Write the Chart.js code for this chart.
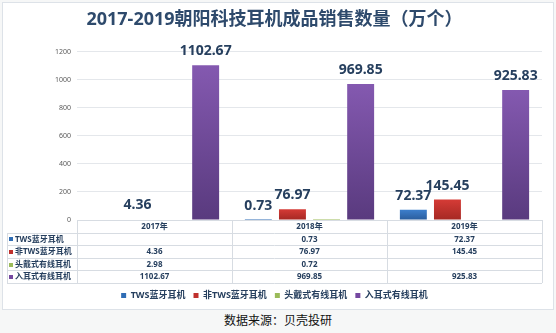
<!DOCTYPE html>
<html>
<head>
<meta charset="utf-8">
<script src="https://cdn.jsdelivr.net/npm/chart.js@4.4.1/dist/chart.umd.min.js"></script>
<style>
  html, body { margin: 0; padding: 0; }
  body { width: 556px; height: 333px; background: #f6f7f7; position: relative; overflow: hidden; }
  .frame { position: absolute; left: 2px; top: 2px; width: 550px; height: 306px; border: 1px solid #dde2e8; background: #fff; }
  .chart-box { position: absolute; left: 0; top: 0; width: 556px; height: 310px; }
  .source { position: absolute; left: 0; top: 311px; width: 556px; height: 22px; line-height: 22px;
            text-align: center; font: 12px "Noto Sans CJK SC", sans-serif; color: #111; }
</style>
</head>
<body>
<div class="frame"></div>
<div class="chart-box"><canvas id="c" width="556" height="310"></canvas></div>
<div class="source">数据来源：贝壳投研</div>
<script>
// chart data
const categories = ['2017年', '2018年', '2019年'];
const seriesNames = ['TWS蓝牙耳机', '非TWS蓝牙耳机', '头戴式有线耳机', '入耳式有线耳机'];
const twsValues = [null, 0.73, 72.37];
const nonTwsValues = [4.36, 76.97, 145.45];
const headsetValues = [2.98, 0.72, null];
const inEarValues = [1102.67, 969.85, 925.83];
const yMax = 1200;
const yStep = 200;

const FONT = '"Noto Sans", "Noto Sans CJK SC", sans-serif';
const NAVY = '#263f5e';

// top / bottom colours of each series, and flat legend colour
const palette = [
    { top: '#3d7fcc', bottom: '#2a5c9c', flat: '#2f6db5' },
    { top: '#d53b36', bottom: '#a52823', flat: '#c0312d' },
    { top: '#a9c66a', bottom: '#8aa94c', flat: '#9bbb59' },
    { top: '#8459b0', bottom: '#593a7e', flat: '#7548a0' }
];
const showLabels = [true, true, false, true];

function barFill(i) {
    return (ctx) => {
        const chart = ctx.chart;
        const y = chart.scales && chart.scales.y;
        if (!chart.chartArea || !y || ctx.raw == null) return palette[i].flat;
        const top = y.getPixelForValue(ctx.raw);
        const bottom = chart.chartArea.bottom;
        if (bottom - top < 1) return palette[i].flat;
        const g = chart.ctx.createLinearGradient(0, top, 0, bottom);
        g.addColorStop(0, palette[i].top);
        g.addColorStop(1, palette[i].bottom);
        return g;
    };
}

const allValues = [twsValues, nonTwsValues, headsetValues, inEarValues];

const labelAndTable = {
    id: 'labelAndTable',
    afterDatasetsDraw(chart) {
        const ctx = chart.ctx;
        ctx.save();
        ctx.font = 'bold 14px ' + FONT;
        ctx.fillStyle = NAVY;
        ctx.textAlign = 'center';
        ctx.textBaseline = 'middle';
        chart.data.datasets.forEach((ds, i) => {
            if (!showLabels[i]) return;
            chart.getDatasetMeta(i).data.forEach((bar, j) => {
                if (ds.data[j] == null) return;
                ctx.fillText(ds.data[j].toFixed(2), bar.x, bar.y - 14);
            });
        });
        ctx.restore();
    },
    afterDraw(chart) {
        const ctx = chart.ctx;
        const area = chart.chartArea;
        const x = chart.scales.x;
        const top = area.bottom;
        const bottom = x.bottom;
        const rowH = (bottom - top) / 5;
        const colW = (area.right - area.left) / categories.length;
        const leftEdge = 7;

        ctx.save();
        ctx.strokeStyle = '#d7dce2';
        ctx.lineWidth = 1;
        ctx.beginPath();
        // header row lines
        ctx.moveTo(area.left, top + 0.5);
        ctx.lineTo(area.right, top + 0.5);
        for (let r = 1; r <= 5; r++) {
            const yy = Math.round(top + r * rowH) + 0.5;
            ctx.moveTo(leftEdge, yy);
            ctx.lineTo(area.right, yy);
        }
        ctx.moveTo(leftEdge + 0.5, Math.round(top + rowH));
        ctx.lineTo(leftEdge + 0.5, Math.round(bottom));
        for (let c = 0; c <= categories.length; c++) {
            const xx = Math.round(area.left + c * colW) + 0.5;
            ctx.moveTo(xx, top);
            ctx.lineTo(xx, Math.round(bottom));
        }
        ctx.stroke();

        ctx.font = 'bold 8px ' + FONT;
        ctx.fillStyle = NAVY;
        ctx.textBaseline = 'middle';
        ctx.textAlign = 'center';
        categories.forEach((cat, c) => {
            const cx = x.getPixelForValue(c);
            ctx.fillText(cat, cx, top + rowH / 2 + 0.5);
            allValues.forEach((vals, r) => {
                if (vals[c] == null) return;
                ctx.fillText(vals[c].toFixed(2), cx, top + (r + 1.5) * rowH + 0.5);
            });
        });
        ctx.textAlign = 'left';
        seriesNames.forEach((name, r) => {
            const cy = top + (r + 1.5) * rowH + 0.5;
            ctx.fillStyle = palette[r].flat;
            ctx.fillRect(leftEdge + 2, Math.round(cy - 2), 4, 4);
            ctx.fillStyle = NAVY;
            ctx.fillText(name, leftEdge + 8, cy);
        });
        ctx.restore();
    }
};

new Chart(document.getElementById('c'), {
    type: 'bar',
    data: {
        labels: categories,
        datasets: allValues.map((vals, i) => ({
            label: seriesNames[i],
            data: vals,
            backgroundColor: barFill(i),
            legendColor: palette[i].flat
        }))
    },
    options: {
        responsive: false,
        animation: false,
        categoryPercentage: 0.88,
        barPercentage: 0.79,
        layout: { padding: { left: 7, right: 14, top: 0, bottom: 0 } },
        plugins: {
            title: {
                display: true,
                text: '2017-2019朝阳科技耳机成品销售数量（万个）',
                color: '#2e4a6c',
                font: { family: FONT, size: 18, weight: 'bold', lineHeight: 1.2 },
                padding: { top: 9, bottom: 21 }
            },
            legend: {
                position: 'bottom',
                labels: {
                    boxWidth: 5,
                    boxHeight: 5,
                    padding: 8,
                    color: NAVY,
                    font: { family: FONT, size: 9, weight: 'bold' },
                    generateLabels(chart) {
                        return chart.data.datasets.map((ds, i) => ({
                            text: ds.label,
                            fillStyle: ds.legendColor,
                            strokeStyle: ds.legendColor,
                            lineWidth: 0,
                            fontColor: NAVY,
                            datasetIndex: i
                        }));
                    }
                }
            },
            tooltip: { enabled: false }
        },
        scales: {
            x: {
                grid: { display: false },
                border: { display: false },
                ticks: { display: false },
                afterFit(s) { s.height = 63; }
            },
            y: {
                min: 0,
                max: yMax,
                ticks: {
                    stepSize: yStep,
                    padding: 6,
                    color: '#5a5a5a',
                    font: { family: FONT, size: 7 },
                    callback: (v) => String(v)
                },
                grid: { color: '#e4e7eb', drawTicks: false },
                border: { display: false },
                afterFit(s) { s.width = 70; }
            }
        }
    },
    plugins: [labelAndTable]
});
</script>
</body>
</html>
